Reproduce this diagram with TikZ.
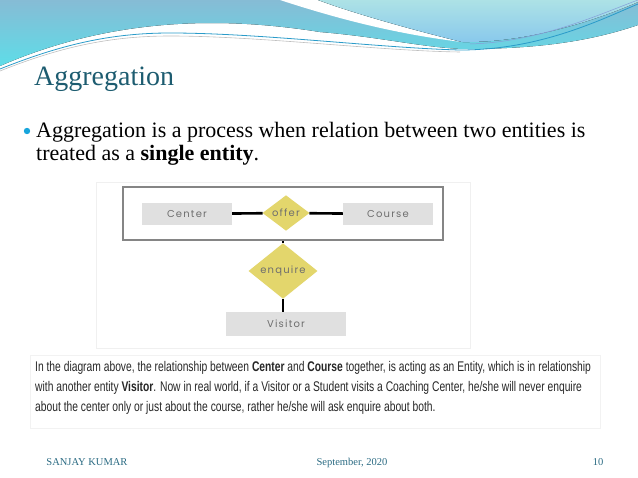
\documentclass[tikz,border=0pt]{standalone}
\usepackage{fontspec}
\usepackage{graphicx}
\setmainfont{Liberation Serif}
\setsansfont{Liberation Sans}
\newfontfamily\diafont[LetterSpace=12]{Poppins}
\usetikzlibrary{shapes.geometric}

\definecolor{titleblue}{HTML}{1D5C70}
\definecolor{footblue}{HTML}{2A6A82}
\definecolor{wavetop}{HTML}{86BCD5}
\definecolor{wavebot}{HTML}{5EDDE8}
\definecolor{paletop}{HTML}{ADE2E6}
\definecolor{palebot}{HTML}{88C8EC}
\definecolor{boxgray}{HTML}{E0E0E0}
\definecolor{labelgray}{HTML}{6E6E6E}
\definecolor{relyellow}{HTML}{E3D66C}
\definecolor{framegray}{HTML}{858585}

\tikzset{
  entity/.style={rectangle, fill=boxgray, text=labelgray, minimum width=90pt,
    minimum height=22pt, inner sep=0pt, font=\diafont\fontsize{10}{10}\selectfont},
  relship/.style={diamond, fill=relyellow, text=labelgray, inner sep=0pt,
    font=\diafont\fontsize{10}{10}\selectfont},
  link/.style={line width=2.6pt, black},
  caption/.style={anchor=base west, inner sep=0pt, text=black!85,
    font=\sffamily\fontsize{14}{14}\selectfont},
  footer/.style={anchor=base, inner sep=0pt, text=footblue, font=\fontsize{10.5}{10.5}\selectfont}
}

\begin{document}
\begin{tikzpicture}[x=1pt, y=-1pt]
\useasboundingbox (0,0) rectangle (638,478);

% header waves
\fill[top color=wavetop, bottom color=wavebot] (0,0) -- (638,0) -- (638,25)
  .. controls (580,45) and (520,49) .. (462,49)
  .. controls (420,47) and (380,37) .. (320,32)
  .. controls (220,16) and (110,18) .. (0,66) -- cycle;
\fill[white] (280,0) .. controls (335,18) and (395,34) .. (462,42)
  .. controls (405,28) and (350,12) .. (318,0) -- cycle;
\fill[top color=paletop, bottom color=palebot] (318,0)
  .. controls (350,12) and (405,28) .. (462,42)
  .. controls (525,43) and (592,22) .. (638,2) -- (638,0) -- cycle;
\draw[color=cyan!60!teal, line width=0.8pt] (0,69) .. controls (60,45) and (110,33) .. (170,33)
  .. controls (260,33) and (380,48) .. (460,50) .. controls (540,50) and (600,20) .. (638,4);
\draw[color=gray!50, line width=0.6pt] (0,71) .. controls (60,47) and (110,36) .. (170,36)
  .. controls (260,36) and (380,51) .. (460,52);
\draw[color=cyan!40!blue!50, line width=0.5pt] (470,44) .. controls (540,42) and (600,14) .. (638,0);

% title and bullet
\node[anchor=base west, inner sep=0pt, text=titleblue, font=\fontsize{28}{28}\selectfont]
  (title) at (34,86) {Aggregation};
\fill[color=cyan!80!teal] (27,131) circle (3.2);
\node[anchor=base west, inner sep=0pt, font=\fontsize{22}{22}\selectfont]
  (line1) at (36,138) {Aggregation is a process when relation between two entities is};
\node[anchor=base west, inner sep=0pt, font=\fontsize{22}{22}\selectfont]
  (line2) at (36,161) {treated as a \textbf{single entity}.};

% diagram panel
\draw[color=gray!12, fill=white] (96,182) rectangle (470,348);
\node[draw=framegray, line width=2.6pt, minimum width=320pt, minimum height=53pt,
  inner sep=0pt] (aggbox) at (283,213.5) {};
\node[entity] (center) at (187,214) {Center};
\node[entity] (course) at (388,214) {Course};
\node[relship, minimum width=47pt, minimum height=34pt] (offer) at (286,213) {offer};
\node[relship, minimum width=69pt, minimum height=42pt] (enquire) at (283,271) {enquire};
\node[entity, minimum width=120pt, minimum height=24pt] (visitor) at (286,324) {Visitor};

\draw[link] (center) -- (offer);
\draw[link] (offer) -- (course);
\draw[link] (enquire.north) -- (enquire.north |- aggbox.south);
\draw[link] (enquire.south) -- (enquire.south |- visitor.north);

% caption
\draw[color=gray!10] (30,355) rectangle (600,428);
\node[caption] (cap1) at (35,372) {\scalebox{0.735}[1]{In the diagram above, the relationship between \textbf{Center} and \textbf{Course} together, is acting as an Entity, which is in relationship}};
\node[caption] (cap2) at (35,392) {\scalebox{0.735}[1]{with another entity \textbf{Visitor}. Now in real world, if a Visitor or a Student visits a Coaching Center, he/she will never enquire}};
\node[caption] (cap3) at (35,412) {\scalebox{0.735}[1]{about the center only or just about the course, rather he/she will ask enquire about both.}};

% footer
\node[footer] (author) at (87,466) {SANJAY KUMAR};
\node[footer] (date) at (352,466) {September, 2020};
\node[footer] (page) at (598,466) {10};
\end{tikzpicture}
\end{document}
